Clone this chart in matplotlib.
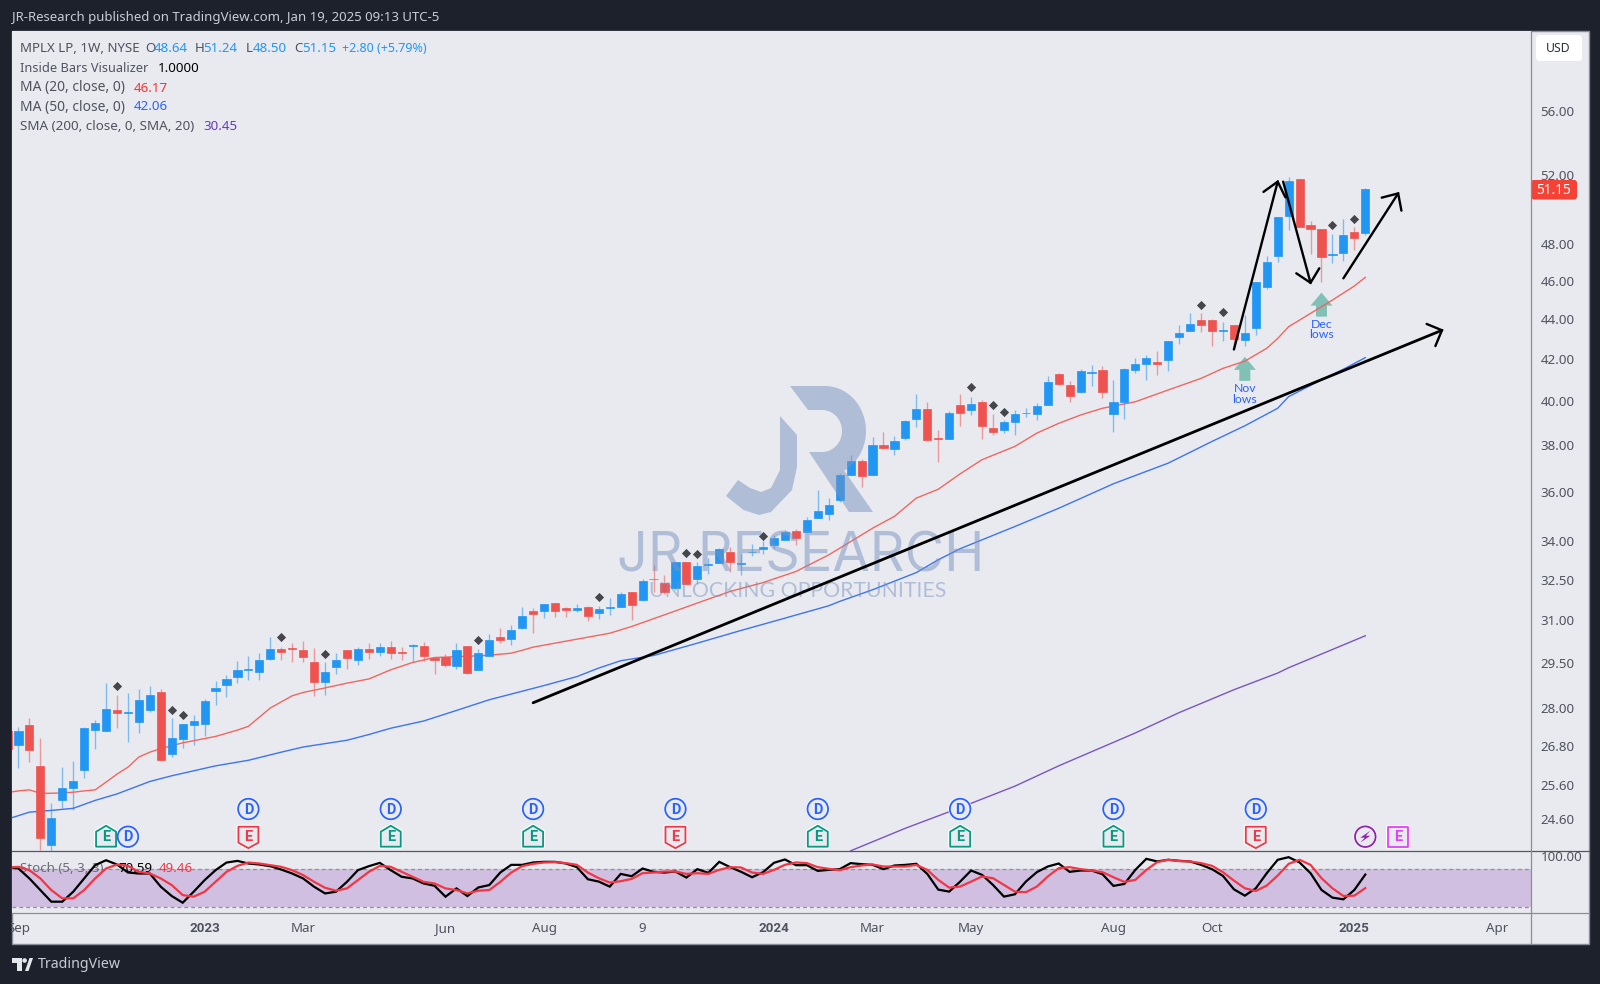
import numpy as np
import matplotlib
matplotlib.use("Agg")
import matplotlib.pyplot as plt
from matplotlib.patches import Polygon, Rectangle, Circle, FancyBboxPatch
from matplotlib.ticker import NullLocator, FixedLocator, FixedFormatter
from matplotlib.transforms import Affine2D
from matplotlib.lines import Line2D

plt.rcParams['font.family'] = ['Noto Sans', 'DejaVu Sans']

opens = [27.25,26.83,27.46,26.18,23.89,25.16,25.53,26.05,27.30,27.27,
 27.92,27.85,27.54,27.95,28.51,26.55,27.00,27.45,27.49,28.55,
 28.76,29.03,29.28,29.20,29.63,29.99,30.02,29.96,29.52,28.85,
 29.36,29.94,29.61,29.99,29.89,30.07,29.88,30.10,30.09,29.69,
 29.71,29.40,30.10,29.27,29.74,30.42,30.35,30.74,31.33,31.35,
 31.64,31.44,31.39,31.50,31.27,31.46,31.47,32.05,31.74,32.54,
 32.38,32.20,33.16,32.52,33.05,33.12,33.56,33.10,33.55,33.69,
 33.84,34.04,34.39,34.35,34.92,35.06,35.66,36.72,37.32,36.72,
 38.00,37.83,38.30,39.18,39.62,38.30,38.27,39.80,39.57,39.97,
 38.77,38.68,39.01,39.42,39.40,39.79,41.29,40.75,40.41,41.34,
 41.47,39.40,39.96,41.44,41.74,41.83,41.94,43.07,43.38,43.92,
 43.94,43.39,43.68,42.91,43.53,45.64,47.31,49.61,51.76,49.05,
 48.82,47.37,47.49,48.69,48.64]
closes = [26.70,27.27,26.68,24.08,24.64,25.52,25.72,27.37,27.53,27.97,
 27.83,27.87,28.27,28.41,26.35,27.04,27.49,27.58,28.22,28.67,
 28.95,29.26,29.29,29.60,29.98,29.89,29.98,29.72,28.85,29.20,
 29.60,29.69,29.98,29.89,30.07,29.84,29.85,30.12,29.74,29.62,
 29.44,29.94,29.16,29.83,30.31,30.29,30.67,31.14,31.24,31.58,
 31.35,31.39,31.44,31.17,31.41,31.49,31.96,31.55,32.44,32.52,
 32.04,33.16,32.34,33.03,33.08,33.68,33.18,33.13,33.58,33.76,
 34.13,34.36,34.12,34.85,35.18,35.45,36.69,37.32,36.65,38.00,
 37.88,38.16,39.09,39.62,38.22,38.26,39.45,39.46,39.84,38.83,
 38.59,39.04,39.40,39.46,39.77,40.89,40.77,40.21,41.39,41.37,
 40.41,39.94,41.53,41.76,42.02,41.77,42.88,43.29,43.75,43.70,
 43.39,43.43,43.00,43.29,45.93,47.00,49.50,51.62,48.97,48.84,
 47.26,47.46,48.52,48.34,51.15]
highs = [27.45,27.39,27.68,27.04,25.08,26.15,26.34,27.38,27.62,28.84,
 28.41,28.49,28.61,28.73,28.62,27.68,27.49,27.77,28.30,28.90,
 29.10,29.56,29.74,29.84,30.39,30.05,30.19,30.26,30.02,29.52,
 29.85,29.94,30.05,30.19,30.19,30.26,30.04,30.17,30.23,29.70,
 29.81,30.18,30.10,29.98,30.53,30.72,30.84,31.48,31.45,31.59,
 31.64,31.50,31.59,31.53,31.53,31.82,32.05,32.05,32.52,33.04,
 32.67,33.17,33.17,33.16,33.32,33.70,33.74,33.49,33.87,34.01,
 34.24,34.45,34.47,34.95,36.08,35.73,36.78,37.58,37.39,38.34,
 38.60,38.39,39.13,40.33,39.96,38.68,39.54,40.33,40.19,40.03,
 39.40,39.10,39.59,39.68,39.90,41.18,41.34,40.94,41.52,41.69,
 41.64,40.99,41.55,42.04,42.20,42.39,42.90,43.68,44.31,44.28,
 43.97,43.84,43.68,44.19,45.93,47.35,49.50,51.90,51.76,49.30,
 48.82,48.56,49.41,48.93,51.24]
lows = [26.50,26.13,26.30,23.75,23.66,24.92,24.88,25.80,26.71,27.27,
 27.35,26.91,27.19,27.87,26.33,26.44,26.74,26.82,27.11,28.10,
 28.37,28.82,28.94,28.94,29.59,29.59,29.52,29.54,28.40,28.42,
 29.14,29.29,29.44,29.63,29.74,29.63,29.59,29.54,29.56,29.14,
 29.37,29.30,29.12,29.27,29.74,30.21,30.11,30.69,30.56,31.07,
 31.11,31.12,31.31,30.99,31.06,31.18,31.47,31.02,31.72,32.05,
 31.96,32.12,32.30,32.32,32.73,33.12,32.79,32.68,33.39,33.48,
 33.68,34.04,33.82,34.31,34.91,34.84,35.55,36.72,36.18,36.72,
 37.84,37.57,38.22,38.79,38.22,37.25,38.26,38.86,39.37,38.25,
 38.46,38.53,38.46,39.28,39.10,39.79,40.75,39.97,40.36,40.70,
 40.13,38.56,39.16,41.31,40.99,41.22,41.43,42.71,43.38,43.35,
 42.65,42.88,42.60,42.65,43.18,45.53,47.02,48.79,48.97,47.42,
 45.90,46.93,47.07,47.65,48.50]

ma20_idx = [0,1,2,3,4,5,6,7,8,9,10,11,12,13,14,16,19,21,22,24,26,27,29,31,33,35,37,39,41,43,44,46,47,48,50,52,55,57,60,63,66,69,72,75,77,79,81,83,85,87,89,92,94,96,98,100,103,106,109,111,113,115,116,117,119,121,123,124]
ma20_val = [25.38,25.43,25.46,25.36,25.36,25.37,25.39,25.43,25.46,25.69,25.93,26.14,26.45,26.60,26.71,26.89,27.09,27.29,27.41,28.00,28.40,28.51,28.66,28.82,28.96,29.27,29.52,29.69,29.72,29.75,29.77,29.84,29.94,30.05,30.19,30.33,30.54,30.78,31.20,31.63,32.06,32.39,32.81,33.45,33.97,34.50,34.98,35.73,36.10,36.75,37.36,37.94,38.53,38.97,39.35,39.66,39.96,40.51,41.06,41.54,41.89,42.52,43.01,43.60,44.28,44.97,45.71,46.17]
ma50_idx = [0,2,4,6,8,10,13,15,19,22,25,27,31,33,35,38,41,44,47,49,52,54,56,59,63,67,71,75,76,79,83,85,87,92,96,101,106,110,113,116,117,120,122,124]
ma50_val = [24.61,24.81,24.86,24.92,25.15,25.34,25.71,25.88,26.18,26.35,26.60,26.76,26.97,27.15,27.35,27.58,27.92,28.27,28.55,28.74,29.04,29.33,29.58,29.76,30.19,30.64,31.08,31.53,31.69,32.12,32.77,33.26,33.69,34.57,35.31,36.33,37.21,38.16,38.86,39.66,40.20,40.99,41.50,42.06]
sma200_idx = [77,82,87,92,96,103,107,112,116,117,124]
sma200_val = [23.72,24.35,24.94,25.57,26.18,27.20,27.85,28.60,29.16,29.34,30.45]

stoch_k = [82.6,80.0,64.5,46.4,28.3,28.3,43.8,64.5,85.2,92.9,
 86.2,73.8,72.2,72.2,51.6,37.1,26.7,43.8,61.9,77.4,
 89.3,91.9,87.8,86.2,83.6,78.4,72.2,64.5,51.6,41.2,
 43.8,59.3,77.4,83.6,88.8,77.4,67.1,64.5,56.7,53.1,
 36.1,49.0,37.1,50.5,54.2,73.7,85.7,85.7,89.4,90.4,
 90.4,87.8,82.1,63.3,59.6,51.8,71.6,68.0,80.0,74.8,
 73.7,75.3,65.9,79.0,73.2,90.4,82.1,74.8,66.4,74.3,
 88.9,94.1,85.2,85.2,76.3,77.9,79.0,88.4,86.8,85.7,
 79.0,84.7,85.7,87.3,71.6,47.1,44.0,59.6,76.9,70.1,
 54.4,36.2,39.8,59.6,74.3,83.1,87.8,74.8,76.9,76.9,
 71.1,52.9,56.0,77.9,95.1,91.0,93.6,92.0,91.0,85.7,
 79.0,68.5,47.6,37.7,49.2,72.7,93.6,97.7,89.4,72.7,
 46.6,34.6,32.0,46.6,70.59]
stoch_d = [81.6,82.6,77.4,64.5,46.4,33.5,33.5,46.4,64.5,80.0,
 86.2,84.1,74.8,72.2,64.5,54.2,38.6,36.1,43.8,59.3,
 74.8,84.1,89.3,87.8,85.2,82.6,77.4,69.7,59.3,50.0,
 45.4,49.0,61.9,74.8,84.1,82.6,74.8,67.1,59.3,56.7,
 49.0,46.4,41.2,45.4,46.4,59.1,73.7,83.7,87.3,89.4,
 89.9,88.4,85.7,73.7,64.9,58.1,60.2,63.8,72.7,73.7,
 75.3,75.3,71.6,72.7,71.6,77.9,82.1,81.6,73.7,71.6,
 77.9,85.7,89.4,88.4,82.1,79.5,77.4,82.1,84.7,86.3,
 83.1,83.1,83.1,85.7,77.9,62.3,50.2,51.8,59.6,67.5,
 64.9,54.4,44.0,43.0,51.8,67.5,80.5,82.1,79.0,76.9,
 74.3,66.4,59.1,62.3,77.9,89.9,93.6,91.5,91.0,88.4,
 84.2,74.3,61.2,49.2,45.0,53.4,69.0,87.3,93.6,85.7,
 64.9,49.2,37.2,37.7,49.46]

diamond_idx = [10,15,16,25,29,43,54,62,63,69,88,90,91,109,111,121,123]
diamond_val = [28.72,27.95,27.78,30.41,29.81,30.31,31.87,33.53,33.47,34.20,40.63,39.79,39.48,44.73,44.33,49.04,49.43]

price_ticks = [56,52,48,46,44,42,40,38,36,34,32.5,31,29.5,28,26.8,25.6,24.6]
time_idx = [1,18,27,40,49,58,70,79,88,101,110,123,136]
time_lab = ['Sep','2023','Mar','Jun','Aug','9','2024','Mar','May','Aug','Oct','2025','Apr']

div_idx = [22,35,48,61,74,87,101,114]
earn_idx = [9,22,35,48,61,74,87,101,114]
earn_beat = [True,False,True,True,False,True,True,True,False]
div_low_idx = 11
split_idx = 124
next_earn_idx = 127

# hand-drawn lines on the chart: (candle position, price)
trend_line = ([48,131],[28.17,43.42])
trend_head = ([129.6,131,130.4],[43.74,43.42,42.63])
up_arrow = ([112,116],[42.46,51.60])
up_head = ([114.7,116,116.7],[50.99,51.60,50.67])
down_arrow = ([116.5,119],[51.60,45.88])
down_head = ([117.7,119,119.8],[46.39,45.88,46.66])
up2_arrow = ([122,127],[46.12,50.90])
up2_head = ([125.5,127,127.3],[50.65,50.90,49.89])
lows_notes = [(113,42.10,'Nov\nlows'),(120,45.36,'Dec\nlows')]

BG = '#e9eaf0'
DARK = '#1d212c'
BLUE = '#2196f3'
RED = '#ef5350'
TXT = '#50535e'
W, H = 1600, 984
PANE_L, PANE_R = 11.7, 1530.7
MAIN_T, MAIN_B, ST_B, PANEL_B = 31, 851, 913.3, 944

fig = plt.figure(figsize=(W/100, H/100), dpi=100, facecolor=DARK)
def rect(l, t, r, b):
    return [l/W, (H-b)/H, (r-l)/W, (b-t)/H]
fig.add_artist(Rectangle((PANE_L/W,(H-PANEL_B)/H),(1589-PANE_L)/W,(PANEL_B-MAIN_T)/H,
    transform=fig.transFigure, fc=BG, ec='#8a8d96', lw=1, zorder=-1))

ax = fig.add_axes(rect(PANE_L, MAIN_T, PANE_R, MAIN_B), facecolor=BG)
st = fig.add_axes(rect(PANE_L, MAIN_B, PANE_R, ST_B), facecolor=BG)
x0 = 124+(PANE_L-1365.3)/10.95
x1 = 124+(PANE_R-1365.3)/10.95
ax.set_xlim(x0, x1)
st.set_xlim(x0, x1)
ax.set_yscale('log')
ax.set_ylim(52*np.exp(-676/861), 52*np.exp(144/861))
st.set_ylim(10.2, 107.3)
px = Affine2D().scale(1,-1).translate(0,H)

for a in (ax, st):
    for s in ('top','left','right','bottom'):
        a.spines[s].set_visible(False)
    a.yaxis.tick_right()

# pane separators across the full panel width
for xs, ys, col in [([PANE_L,1589],[MAIN_B,MAIN_B],'#55585f'), ([PANE_L,1589],[ST_B,ST_B],'#8a8d96'),
                    ([PANE_R,PANE_R],[MAIN_T,PANEL_B],'#8a8d96')]:
    fig.add_artist(Line2D([v/W for v in xs], [(H-v)/H for v in ys], color=col, lw=0.9, transform=fig.transFigure, zorder=6))

ax.yaxis.set_major_locator(FixedLocator(price_ticks))
ax.yaxis.set_major_formatter(FixedFormatter(['%.2f'%t for t in price_ticks]))
ax.yaxis.set_minor_locator(NullLocator())
ax.tick_params(axis='y', which='major', length=0, pad=7, labelsize=9.6, labelcolor=TXT)
ax.set_xticks([])
st.set_yticks([100]); st.set_yticklabels(['100.00'])
st.tick_params(axis='y', length=0, pad=7, labelsize=9.6, labelcolor=TXT)
st.set_xticks(time_idx)
st.set_xticklabels(time_lab)
st.tick_params(axis='x', length=0, pad=11.3, labelsize=9.6, labelcolor=TXT)
for lab in st.get_xticklabels():
    lab.set_verticalalignment('center')
    if lab.get_text().isdigit() and len(lab.get_text()) == 4:
        lab.set_family('Roboto')
        lab.set_fontweight('bold')

# candles
idx = np.arange(len(opens))
o = np.array(opens); c = np.array(closes); hi = np.array(highs); lo = np.array(lows)
up = c >= o
cols = np.where(up, BLUE, RED)
for col in (BLUE, RED):
    m = cols == col
    ax.vlines(idx[m], lo[m], hi[m], color=col, lw=1.0, alpha=0.55, zorder=3)
    top = np.maximum(o[m], c[m]); bot = np.minimum(o[m], c[m])
    ax.bar(idx[m], top-bot, bottom=bot, width=0.74, color=col, edgecolor=col, lw=0.5, zorder=4)

ax.plot(ma20_idx, ma20_val, color='#f2665f', lw=1.0, zorder=3.5)
ax.plot(ma50_idx, ma50_val, color='#3d74f0', lw=1.0, zorder=3.5)
ax.plot(sma200_idx, sma200_val, color='#7b55be', lw=1.0, zorder=3.5)
ax.scatter(diamond_idx, diamond_val, marker='D', s=22, color='#45464b', lw=0, zorder=5)

# watermark, drawn in picture pixels
wm = (0.47,0.57,0.75)
wa = 0.5
jv = [(780,416),(797,435),(797,467),(792,490),(771,512),(759,515),(743.5,510),(726,496),(738,480),(750,488),(761,492),(771,488),(780,470)]
ax.add_patch(Polygon(jv, closed=True, fc=wm, ec='none', alpha=wa, transform=px, zorder=6))
th_o = np.radians(np.linspace(-90, 62, 30))
th_i = np.radians(np.linspace(90, -90, 30))
outer = [(825+41*np.cos(t), 431+45*np.sin(t)) for t in th_o]
inner = [(822+20*np.cos(t), 431+21*np.sin(t)) for t in th_i]
rv = [(790,386)] + outer + [(873,512),(849,512),(809,452)] + inner + [(808,410)]
ax.add_patch(Polygon(rv, closed=True, fc=wm, ec='none', alpha=wa, transform=px, zorder=6))
ax.text(801, 557, 'JR RESEARCH', transform=px, ha='center', va='center', fontsize=39, color=wm, alpha=wa, family='Inter', zorder=6)
ax.text(798, 591, 'UNLOCKING OPPORTUNITIES', transform=px, ha='center', va='center', fontsize=15.3, color=wm, alpha=wa, family='Lato', zorder=6)

# hand-drawn lines
for (xs, ys), lw in [(trend_line,2.0),(trend_head,1.7),(up_arrow,1.7),(up_head,1.7),(down_arrow,1.7),(down_head,1.7),(up2_arrow,1.7),(up2_head,1.7)]:
    ax.plot(xs, ys, color='black', lw=lw, zorder=7, solid_capstyle='round', solid_joinstyle='miter', clip_on=False)

# green "lows" arrows and notes
fig.canvas.draw()
for i, p, note in lows_notes:
    tx, ty = ax.transData.transform((i, p))
    verts = [(tx,ty),(tx+11,ty-13),(tx+5.5,ty-13),(tx+5.5,ty-24),(tx-5.5,ty-24),(tx-5.5,ty-13),(tx-11,ty-13)]
    ax.add_patch(Polygon(verts, closed=True, fc='#80c0b6', ec='none', transform=None, zorder=3.2))
    ax.annotate(note, xy=(i,p), xytext=(0,-37), textcoords='offset pixels', ha='center', va='center',
                color='#2962ff', fontsize=8.8, linespacing=0.95, zorder=6, family='Lato')

# event markers
def xpx(i):
    return ax.transData.transform((i, 30))[0]
def ev_d(i, y):
    cx = xpx(i); cy = H-y
    ax.add_patch(Circle((cx,cy), 11.8, fc='white', ec='none', transform=None, zorder=8))
    ax.add_patch(Circle((cx,cy), 10.3, fc=BG, ec='#2962ff', lw=1.3, transform=None, zorder=8.1))
    ax.text(cx, cy-0.5, 'D', color='#2962ff', fontsize=10.5, ha='center', va='center', fontweight='bold', family='Roboto', transform=None, zorder=8.2)
def ev_e(i, y, color, kind):
    cx = xpx(i); cy = H-y
    if kind == 'up':
        v = [(cx-10,cy-10),(cx+10,cy-10),(cx+10,cy+5),(cx,cy+11),(cx-10,cy+5)]
    elif kind == 'down':
        v = [(cx-10,cy+10),(cx+10,cy+10),(cx+10,cy-6),(cx,cy-11.5),(cx-10,cy-6)]
    else:
        v = [(cx-10,cy-10),(cx+10,cy-10),(cx+10,cy+10),(cx-10,cy+10)]
    ax.add_patch(Polygon(v, closed=True, fc=BG, ec='white', lw=2.8, transform=None, zorder=8, joinstyle='round'))
    ax.add_patch(Polygon(v, closed=True, fc=BG, ec=color, lw=1.3, transform=None, zorder=8.1, joinstyle='round'))
    ax.text(cx, cy-0.5, 'E', color=color, fontsize=10.5, ha='center', va='center', fontweight='bold', family='Roboto', transform=None, zorder=8.2)

for i in div_idx:
    ev_d(i, 809)
for i, beat in zip(earn_idx, earn_beat):
    ev_e(i, 836.7, '#089981' if beat else '#f23645', 'up' if beat else 'down')
ev_d(div_low_idx, 836.7)
ev_e(next_earn_idx, 836.7, '#e040fb', 'flat')
sx = xpx(split_idx); sy = H-836.7
ax.add_patch(Circle((sx,sy), 11.8, fc='white', ec='none', transform=None, zorder=8))
ax.add_patch(Circle((sx,sy), 10.3, fc=BG, ec='#8e24aa', lw=1.3, transform=None, zorder=8.1))
ax.add_patch(Polygon([(sx+5,sy+6),(sx-5,sy-1),(sx-0.5,sy-1),(sx-5,sy-6),(sx+5,sy+1),(sx+0.5,sy+1)], closed=True,
                     fc='#8e24aa', ec='none', transform=None, zorder=8.2))

# stochastic pane
st.axhspan(20, 80, color='#d0bfe0', lw=0, zorder=1)
for lv in (20, 80):
    st.axhline(lv, color='#8f8f98', lw=0.9, ls=(0,(3,2.5)), zorder=2)
st.text(20, 869, 'Stoch (5, 3, 3)', color='#6f6a78', fontsize=9.6, va='center', transform=px, zorder=2.5)
st.text(118, 869, '70.59', color='black', fontsize=9.6, va='center', transform=px, zorder=2.5)
st.text(159, 869, '49.46', color='#f23645', fontsize=9.6, va='center', transform=px, zorder=2.5)
st.plot(idx, stoch_k, color='black', lw=1.6, zorder=3, solid_joinstyle='miter')
st.plot(idx, stoch_d, color='#f23645', lw=1.6, zorder=4)

# price badge, USD badge
ax.add_patch(FancyBboxPatch((1532,181),44,17.5, boxstyle='round,pad=0,rounding_size=2', fc='#f44336', ec='#f44336', lw=1.5,
                            transform=px, zorder=9, clip_on=False))
ax.text(1554, 190, '51.15', color='white', fontsize=9.8, ha='center', va='center', transform=px, zorder=10, clip_on=False, fontweight='medium')
ax.add_patch(FancyBboxPatch((1536,35),46,26, boxstyle='round,pad=0,rounding_size=4', fc='white', ec='none',
                            transform=px, zorder=9, clip_on=False))
ax.text(1558, 49, 'USD', color='#2a2e39', fontsize=8.8, ha='center', va='center', transform=px, zorder=10, clip_on=False)

# texts over everything
def t(x, y, s, color=TXT, size=9.6, **kw):
    fig.text(x/W, (H-y)/H, s, color=color, fontsize=size, va='center', ha='left', zorder=20, **kw)

t(12, 17, 'JR-Research published on TradingView.com, Jan 19, 2025 09:13 UTC-5', color='#c9ccd3', size=9.5)
t(20, 49, 'MPLX LP, 1W, NYSE')
for x, s, col, sz in [(145,'O',TXT,9.6),(154,'48.64',BLUE,9.6),(195,'H',TXT,9.6),(203,'51.24',BLUE,9.6),(246,'L',TXT,9.6),(253,'48.50',BLUE,9.6),
                      (294,'C',TXT,9.6),(302,'51.15',BLUE,9.6),(342,'+2.80 (+5.79%)',BLUE,9.0)]:
    t(x, 49, s, color=col, size=sz)
t(20, 68.5, 'Inside Bars Visualizer', size=9.2); t(158, 68.5, '1.0000', color='black')
t(20, 88, 'MA (20, close, 0)', size=10); t(134, 88, '46.17', color='#f7322f')
t(20, 107, 'MA (50, close, 0)', size=10); t(134, 107, '42.06', color='#2962ff')
t(20, 127, 'SMA (200, close, 0, SMA, 20)', size=9.7); t(203, 127, '30.45', color='#673ab7')

# footer logo and name
for v in ([(12,958),(21.5,958),(21.5,971),(17,971),(17,963),(12,963)], [(25,971),(29.5,958),(33,958),(28.5,971)]):
    fig.add_artist(Polygon([(a/W,(H-b)/H) for a,b in v], closed=True, fc='#e6e7ea', ec='none', transform=fig.transFigure, zorder=20))
fig.add_artist(Circle((24.6,H-960.5), 2.3, fc='#e6e7ea', ec='none', transform=None, zorder=20))
t(38, 965, 'TradingView', color='#c9ccd3', size=10.2)

# dark strip hides what spills past the left pane edge
fig.add_artist(Rectangle((0,0), (PANE_L-0.5)/W, 1, transform=fig.transFigure, fc=DARK, ec='none', zorder=15))

fig.savefig('out.png', dpi=100, facecolor=DARK)
